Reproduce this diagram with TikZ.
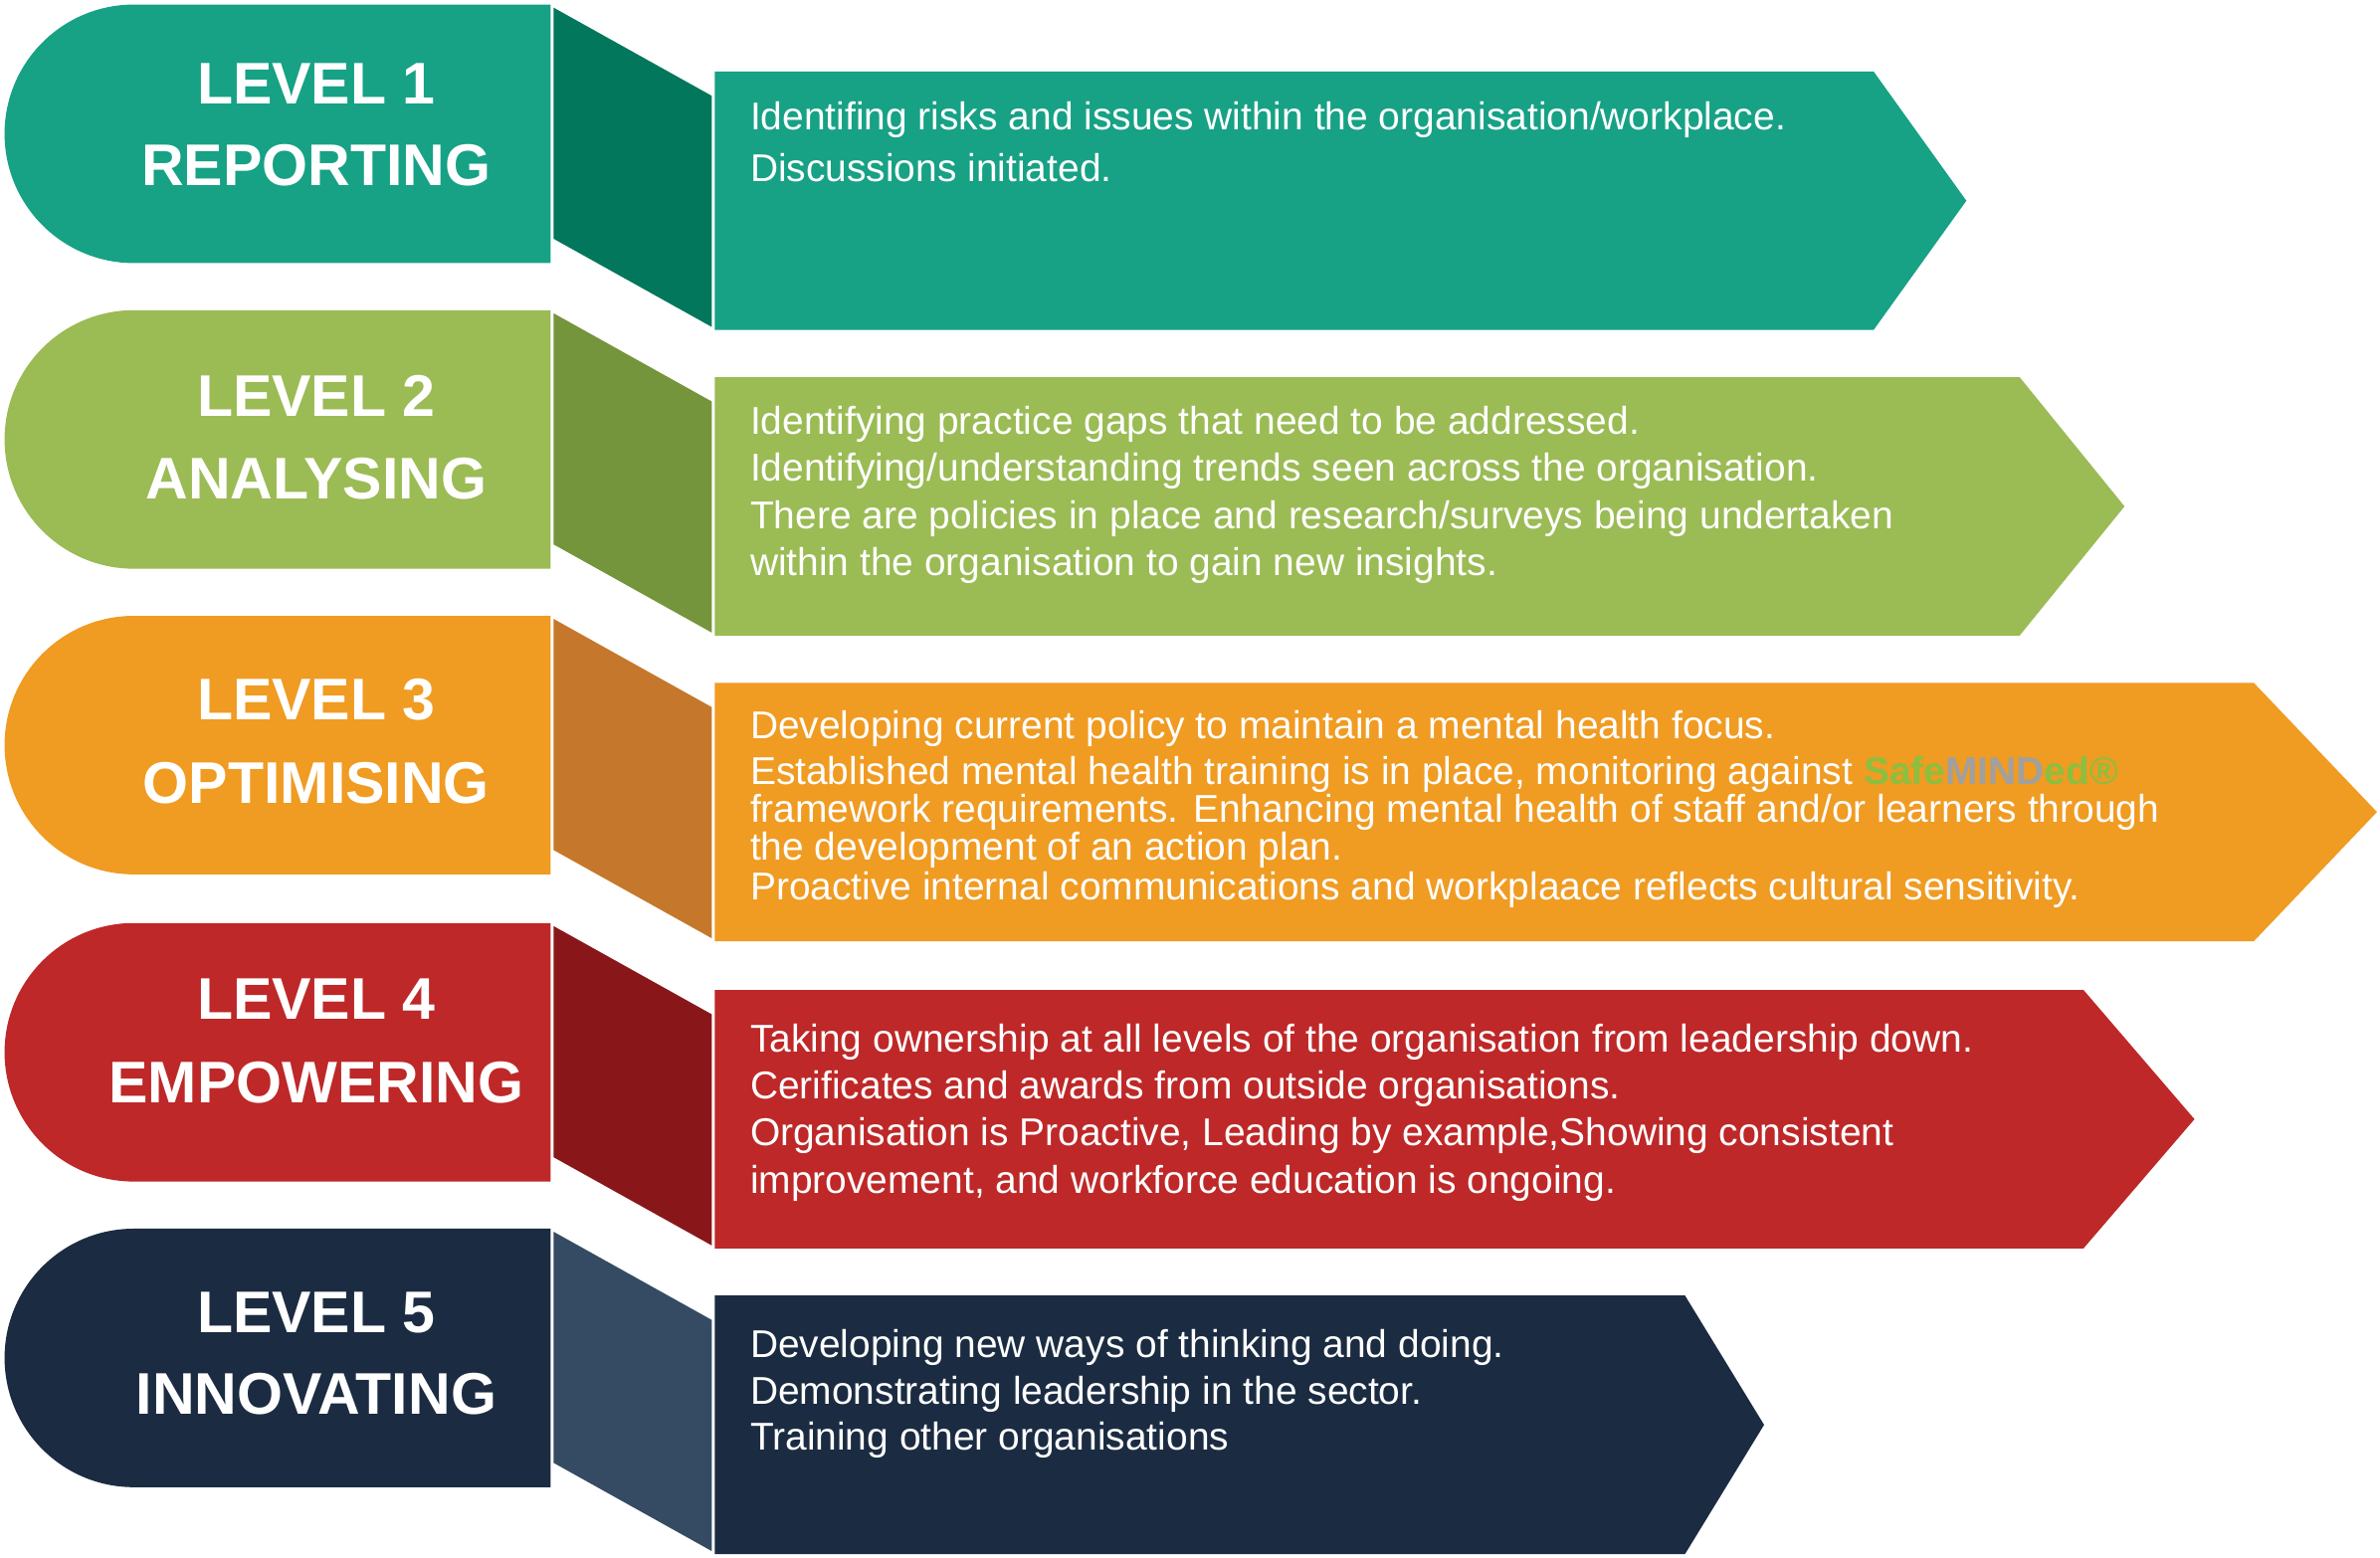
\documentclass[tikz,border=0pt]{standalone}
\usepackage{fontspec}
\setmainfont{Liberation Sans}
\definecolor{c1}{HTML}{17A185}\definecolor{d1}{HTML}{02775B}
\definecolor{c2}{HTML}{9BBB55}\definecolor{d2}{HTML}{74953C}
\definecolor{c3}{HTML}{F09B22}\definecolor{d3}{HTML}{C5782B}
\definecolor{c4}{HTML}{BE2828}\definecolor{d4}{HTML}{891719}
\definecolor{c5}{HTML}{1B2C42}\definecolor{d5}{HTML}{354B63}
\definecolor{sgreen}{HTML}{8CBF3F}\definecolor{sgray}{HTML}{A0A0A0}
\tikzset{lvl/.style={text=white,font=\bfseries\fontsize{22}{26}\selectfont},
 body/.style={text=white,anchor=west,inner sep=0,font=\fontsize{14.5}{17}\selectfont}}
\newcommand{\myrow}[5]{% #1 offset, #2 color, #3 dark, #4 shoulder, #5 tip
 \fill[#2] (362,#1+3) -- (88,#1+3) arc[start angle=270,end angle=90,radius=85] -- (362,#1+173) -- cycle;
 \fill[#3] (364,#1+5) -- (468,#1+63) -- (468,#1+215) -- (364,#1+157) -- cycle;
 \fill[#2] (470,#1+47) -- (#4,#1+47) -- (#5,#1+132) -- (#4,#1+217) -- (470,#1+217) -- cycle;}
\begin{document}
\begin{tikzpicture}[x=0.02cm,y=-0.02cm]
\useasboundingbox (0,0) rectangle (1565,1024);
\myrow{0}{c1}{d1}{1232}{1293}
\myrow{201}{c2}{d2}{1328}{1397}
\myrow{402}{c3}{d3}{1482}{1563}
\myrow{604}{c4}{d4}{1370}{1443}
\myrow{805}{c5}{d5}{1108}{1160}
\node[lvl] (l1a) at (208,55) {LEVEL 1};\node[lvl] (l1b) at (208,109) {REPORTING};
\node[lvl] (l2a) at (208,260) {LEVEL 2};\node[lvl] (l2b) at (208,315) {ANALYSING};
\node[lvl] (l3a) at (208,460) {LEVEL 3};\node[lvl] (l3b) at (208,515) {OPTIMISING};
\node[lvl] (l4a) at (208,657) {LEVEL 4};\node[lvl] (l4b) at (208,712) {EMPOWERING};
\node[lvl] (l5a) at (208,863) {LEVEL 5};\node[lvl] (l5b) at (208,917) {INNOVATING};
\node[body] (t11) at (493,79) {Identifing risks and issues within the organisation/workplace.};
\node[body] (t12) at (493,110) {Discussions initiated.};
\node[body] (t21) at (493,279) {Identifying practice gaps that need to be addressed.};
\node[body] (t22) at (493,310) {Identifying/understanding trends seen across the organisation.};
\node[body] (t23) at (493,341) {There are policies in place and research/surveys being undertaken};
\node[body] (t24) at (493,372) {within the organisation to gain new insights.};
\node[body] (t31) at (493,479) {Developing current policy to maintain a mental health focus.};
\node[body] (t32) at (493,509) {Established mental health training is in place, monitoring against \textcolor{sgreen}{\bfseries Safe}\textcolor{sgray}{\bfseries MIND}\textcolor{sgreen}{\bfseries ed®}};
\node[body] (t33) at (493,534) {framework requirements. Enhancing mental health of staff and/or learners through};
\node[body] (t34) at (493,559) {the development of an action plan.};
\node[body] (t35) at (493,585) {Proactive internal communications and workplaace reflects cultural sensitivity.};
\node[body] (t41) at (493,685) {Taking ownership at all levels of the organisation from leadership down.};
\node[body] (t42) at (493,716) {Cerificates and awards from outside organisations.};
\node[body] (t43) at (493,747) {Organisation is Proactive, Leading by example,Showing consistent};
\node[body] (t44) at (493,778) {improvement, and workforce education is ongoing.};
\node[body] (t51) at (493,886) {Developing new ways of thinking and doing.};
\node[body] (t52) at (493,917) {Demonstrating leadership in the sector.};
\node[body] (t53) at (493,947) {Training other organisations};
\end{tikzpicture}
\end{document}
